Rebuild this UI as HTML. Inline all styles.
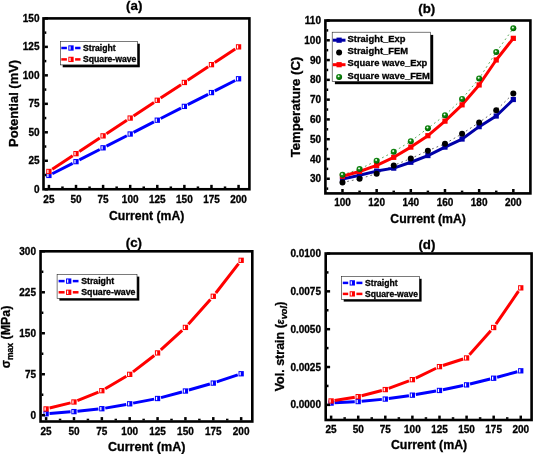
<!DOCTYPE html>
<html><head><meta charset="utf-8"><style>
html,body{margin:0;padding:0;background:#fff;overflow:hidden;}
svg{display:block;will-change:transform;}
text{font-family:"Liberation Sans", sans-serif;stroke:#000;stroke-width:0.3px;}
</style></head><body>
<svg width="533" height="454" viewBox="0 0 533 454" font-family="'Liberation Sans', sans-serif">
<rect width="533" height="454" fill="#fff"/>
<defs><radialGradient id="gs" cx="0.42" cy="0.38" r="0.62"><stop offset="0" stop-color="#ffffff"/><stop offset="0.16" stop-color="#cfe8cf"/><stop offset="0.36" stop-color="#158a15"/><stop offset="0.8" stop-color="#007000"/><stop offset="1" stop-color="#005400"/></radialGradient></defs>
<path d="M52.28,173.73L72.65,163.34M79.37,159.92L99.74,149.53M106.47,146.1L126.83,135.72M133.56,132.29L153.92,121.91M160.65,118.48L181.02,108.1M187.74,104.67L208.11,94.29M214.83,90.86L235.2,80.48" fill="none" stroke="#0000ff" stroke-width="3.0"/>
<path d="M52.24,169.27L72.69,155.84M79.33,151.48L99.78,138.04M106.42,133.68L126.88,120.24M133.51,115.88L153.97,102.45M160.61,98.09L181.06,84.65M187.7,80.29L208.15,66.85M214.79,62.49L235.24,49.06" fill="none" stroke="#ff0000" stroke-width="3.0"/>
<rect x="46.27" y="172.79" width="5.3" height="5.3" fill="#0000ff"/>
<rect x="47.27" y="173.79" width="1.25" height="3.3" fill="#fff"/>
<rect x="73.36" y="158.98" width="5.3" height="5.3" fill="#0000ff"/>
<rect x="74.36" y="159.98" width="1.25" height="3.3" fill="#fff"/>
<rect x="100.45" y="145.17" width="5.3" height="5.3" fill="#0000ff"/>
<rect x="101.45" y="146.17" width="1.25" height="3.3" fill="#fff"/>
<rect x="127.54" y="131.36" width="5.3" height="5.3" fill="#0000ff"/>
<rect x="128.54" y="132.36" width="1.25" height="3.3" fill="#fff"/>
<rect x="154.64" y="117.55" width="5.3" height="5.3" fill="#0000ff"/>
<rect x="155.64" y="118.55" width="1.25" height="3.3" fill="#fff"/>
<rect x="181.73" y="103.74" width="5.3" height="5.3" fill="#0000ff"/>
<rect x="182.73" y="104.74" width="1.25" height="3.3" fill="#fff"/>
<rect x="208.82" y="89.93" width="5.3" height="5.3" fill="#0000ff"/>
<rect x="209.82" y="90.93" width="1.25" height="3.3" fill="#fff"/>
<rect x="235.91" y="76.12" width="5.3" height="5.3" fill="#0000ff"/>
<rect x="236.91" y="77.12" width="1.25" height="3.3" fill="#fff"/>
<rect x="46.27" y="168.8" width="5.3" height="5.3" fill="#ff0000"/>
<rect x="47.27" y="169.8" width="1.25" height="3.3" fill="#fff"/>
<rect x="73.36" y="151.01" width="5.3" height="5.3" fill="#ff0000"/>
<rect x="74.36" y="152.01" width="1.25" height="3.3" fill="#fff"/>
<rect x="100.45" y="133.21" width="5.3" height="5.3" fill="#ff0000"/>
<rect x="101.45" y="134.21" width="1.25" height="3.3" fill="#fff"/>
<rect x="127.54" y="115.41" width="5.3" height="5.3" fill="#ff0000"/>
<rect x="128.54" y="116.41" width="1.25" height="3.3" fill="#fff"/>
<rect x="154.64" y="97.62" width="5.3" height="5.3" fill="#ff0000"/>
<rect x="155.64" y="98.62" width="1.25" height="3.3" fill="#fff"/>
<rect x="181.73" y="79.82" width="5.3" height="5.3" fill="#ff0000"/>
<rect x="182.73" y="80.82" width="1.25" height="3.3" fill="#fff"/>
<rect x="208.82" y="62.02" width="5.3" height="5.3" fill="#ff0000"/>
<rect x="209.82" y="63.02" width="1.25" height="3.3" fill="#fff"/>
<rect x="235.91" y="44.23" width="5.3" height="5.3" fill="#ff0000"/>
<rect x="236.91" y="45.23" width="1.25" height="3.3" fill="#fff"/>
<rect x="43.5" y="18.4" width="205.9" height="170.85" fill="none" stroke="#000" stroke-width="2.6"/>
<line x1="48.92" y1="188.15" x2="48.92" y2="184.85" stroke="#000" stroke-width="2.5"/>
<line x1="76.01" y1="188.15" x2="76.01" y2="184.85" stroke="#000" stroke-width="2.5"/>
<line x1="103.1" y1="188.15" x2="103.1" y2="184.85" stroke="#000" stroke-width="2.5"/>
<line x1="130.19" y1="188.15" x2="130.19" y2="184.85" stroke="#000" stroke-width="2.5"/>
<line x1="157.29" y1="188.15" x2="157.29" y2="184.85" stroke="#000" stroke-width="2.5"/>
<line x1="184.38" y1="188.15" x2="184.38" y2="184.85" stroke="#000" stroke-width="2.5"/>
<line x1="211.47" y1="188.15" x2="211.47" y2="184.85" stroke="#000" stroke-width="2.5"/>
<line x1="238.56" y1="188.15" x2="238.56" y2="184.85" stroke="#000" stroke-width="2.5"/>
<line x1="62.46" y1="188.15" x2="62.46" y2="186.45" stroke="#000" stroke-width="2.5"/>
<line x1="89.56" y1="188.15" x2="89.56" y2="186.45" stroke="#000" stroke-width="2.5"/>
<line x1="116.65" y1="188.15" x2="116.65" y2="186.45" stroke="#000" stroke-width="2.5"/>
<line x1="143.74" y1="188.15" x2="143.74" y2="186.45" stroke="#000" stroke-width="2.5"/>
<line x1="170.83" y1="188.15" x2="170.83" y2="186.45" stroke="#000" stroke-width="2.5"/>
<line x1="197.93" y1="188.15" x2="197.93" y2="186.45" stroke="#000" stroke-width="2.5"/>
<line x1="225.02" y1="188.15" x2="225.02" y2="186.45" stroke="#000" stroke-width="2.5"/>
<text x="48.92" y="202.5" font-size="10" text-anchor="middle" font-weight="bold">25</text>
<text x="76.01" y="202.5" font-size="10" text-anchor="middle" font-weight="bold">50</text>
<text x="103.1" y="202.5" font-size="10" text-anchor="middle" font-weight="bold">75</text>
<text x="130.19" y="202.5" font-size="10" text-anchor="middle" font-weight="bold">100</text>
<text x="157.29" y="202.5" font-size="10" text-anchor="middle" font-weight="bold">125</text>
<text x="184.38" y="202.5" font-size="10" text-anchor="middle" font-weight="bold">150</text>
<text x="211.47" y="202.5" font-size="10" text-anchor="middle" font-weight="bold">175</text>
<text x="238.56" y="202.5" font-size="10" text-anchor="middle" font-weight="bold">200</text>
<line x1="44.6" y1="189.25" x2="47.9" y2="189.25" stroke="#000" stroke-width="2.5"/>
<line x1="44.6" y1="160.78" x2="47.9" y2="160.78" stroke="#000" stroke-width="2.5"/>
<line x1="44.6" y1="132.3" x2="47.9" y2="132.3" stroke="#000" stroke-width="2.5"/>
<line x1="44.6" y1="103.83" x2="47.9" y2="103.83" stroke="#000" stroke-width="2.5"/>
<line x1="44.6" y1="75.35" x2="47.9" y2="75.35" stroke="#000" stroke-width="2.5"/>
<line x1="44.6" y1="46.88" x2="47.9" y2="46.88" stroke="#000" stroke-width="2.5"/>
<line x1="44.6" y1="18.4" x2="47.9" y2="18.4" stroke="#000" stroke-width="2.5"/>
<line x1="44.6" y1="175.01" x2="46.3" y2="175.01" stroke="#000" stroke-width="2.5"/>
<line x1="44.6" y1="146.54" x2="46.3" y2="146.54" stroke="#000" stroke-width="2.5"/>
<line x1="44.6" y1="118.06" x2="46.3" y2="118.06" stroke="#000" stroke-width="2.5"/>
<line x1="44.6" y1="89.59" x2="46.3" y2="89.59" stroke="#000" stroke-width="2.5"/>
<line x1="44.6" y1="61.11" x2="46.3" y2="61.11" stroke="#000" stroke-width="2.5"/>
<line x1="44.6" y1="32.64" x2="46.3" y2="32.64" stroke="#000" stroke-width="2.5"/>
<text x="39.5" y="192.85" font-size="10" text-anchor="end" font-weight="bold">0</text>
<text x="39.5" y="164.38" font-size="10" text-anchor="end" font-weight="bold">25</text>
<text x="39.5" y="135.9" font-size="10" text-anchor="end" font-weight="bold">50</text>
<text x="39.5" y="107.42" font-size="10" text-anchor="end" font-weight="bold">75</text>
<text x="39.5" y="78.95" font-size="10" text-anchor="end" font-weight="bold">100</text>
<text x="39.5" y="50.48" font-size="10" text-anchor="end" font-weight="bold">125</text>
<text x="39.5" y="22" font-size="10" text-anchor="end" font-weight="bold">150</text>
<text x="134.2" y="10.2" font-size="13.3" text-anchor="middle" font-weight="bold">(a)</text>
<text x="146.65" y="219.5" font-size="12" text-anchor="middle" font-weight="bold" textLength="75.3" lengthAdjust="spacingAndGlyphs">Current (mA)</text>
<text x="18.2" y="103.4" font-size="12" text-anchor="middle" font-weight="bold" textLength="87" lengthAdjust="spacingAndGlyphs" transform="rotate(-90 18.2 103.4)">Potential (mV)</text>
<rect x="62.7" y="43.7" width="77.1" height="23.6" fill="#000"/>
<rect x="60.3" y="41.3" width="77.1" height="23.6" fill="#fff" stroke="#222" stroke-width="0.6"/>
<line x1="61.3" y1="48" x2="66.9" y2="48" stroke="#0000ff" stroke-width="2.5"/>
<line x1="75.1" y1="48" x2="80.5" y2="48" stroke="#0000ff" stroke-width="2.5"/>
<rect x="68.35" y="45.35" width="5.3" height="5.3" fill="#0000ff"/>
<rect x="69.35" y="46.35" width="1.25" height="3.3" fill="#fff"/>
<text x="83" y="50.7" font-size="8.6" text-anchor="start" font-weight="bold" textLength="32.6" lengthAdjust="spacingAndGlyphs">Straight</text>
<line x1="61.3" y1="59.4" x2="66.9" y2="59.4" stroke="#ff0000" stroke-width="2.5"/>
<line x1="75.1" y1="59.4" x2="80.5" y2="59.4" stroke="#ff0000" stroke-width="2.5"/>
<rect x="68.35" y="56.75" width="5.3" height="5.3" fill="#ff0000"/>
<rect x="69.35" y="57.75" width="1.25" height="3.3" fill="#fff"/>
<text x="83" y="62.1" font-size="8.6" text-anchor="start" font-weight="bold" textLength="53.4" lengthAdjust="spacingAndGlyphs">Square-wave</text>
<polyline points="342.48,182.52 359.57,178.76 376.65,173.65 393.73,165.39 410.82,158.5 427.9,150.64 444.98,143.75 462.07,133.73 479.15,122.52 496.23,110.13 513.32,93.61" fill="none" stroke="#555" stroke-width="0.9" stroke-linejoin="round" stroke-dasharray="1.8 3.0"/>
<polyline points="342.48,174.83 359.57,169.12 376.65,160.67 393.73,151.82 410.82,141.2 427.9,128.22 444.98,115.24 462.07,98.92 479.15,78.46 496.23,52.11 513.32,28.31" fill="none" stroke="#4aa04a" stroke-width="0.9" stroke-linejoin="round" stroke-dasharray="1.8 3.0"/>
<polyline points="342.48,179.16 359.57,175.22 376.65,171.09 393.73,168.14 410.82,162.24 427.9,155.55 444.98,147.1 462.07,139.04 479.15,126.65 496.23,116.03 513.32,99.51" fill="none" stroke="#0000a8" stroke-width="3.0" stroke-linejoin="round"/>
<polyline points="342.48,176.2 359.57,171.48 376.65,165.39 393.73,157.32 410.82,147.1 427.9,135.69 444.98,121.14 462.07,104.82 479.15,84.95 496.23,59.98 513.32,38.34" fill="none" stroke="#ff0000" stroke-width="3.0" stroke-linejoin="round"/>
<rect x="339.88" y="176.56" width="5.2" height="5.2" fill="#0000a8"/>
<rect x="356.97" y="172.62" width="5.2" height="5.2" fill="#0000a8"/>
<rect x="374.05" y="168.49" width="5.2" height="5.2" fill="#0000a8"/>
<rect x="391.13" y="165.54" width="5.2" height="5.2" fill="#0000a8"/>
<rect x="408.22" y="159.64" width="5.2" height="5.2" fill="#0000a8"/>
<rect x="425.3" y="152.95" width="5.2" height="5.2" fill="#0000a8"/>
<rect x="442.38" y="144.5" width="5.2" height="5.2" fill="#0000a8"/>
<rect x="459.47" y="136.44" width="5.2" height="5.2" fill="#0000a8"/>
<rect x="476.55" y="124.05" width="5.2" height="5.2" fill="#0000a8"/>
<rect x="493.63" y="113.43" width="5.2" height="5.2" fill="#0000a8"/>
<rect x="510.72" y="96.91" width="5.2" height="5.2" fill="#0000a8"/>
<rect x="339.88" y="173.6" width="5.2" height="5.2" fill="#ff0000"/>
<rect x="356.97" y="168.88" width="5.2" height="5.2" fill="#ff0000"/>
<rect x="374.05" y="162.79" width="5.2" height="5.2" fill="#ff0000"/>
<rect x="391.13" y="154.72" width="5.2" height="5.2" fill="#ff0000"/>
<rect x="408.22" y="144.5" width="5.2" height="5.2" fill="#ff0000"/>
<rect x="425.3" y="133.09" width="5.2" height="5.2" fill="#ff0000"/>
<rect x="442.38" y="118.54" width="5.2" height="5.2" fill="#ff0000"/>
<rect x="459.47" y="102.22" width="5.2" height="5.2" fill="#ff0000"/>
<rect x="476.55" y="82.35" width="5.2" height="5.2" fill="#ff0000"/>
<rect x="493.63" y="57.38" width="5.2" height="5.2" fill="#ff0000"/>
<rect x="510.72" y="35.74" width="5.2" height="5.2" fill="#ff0000"/>
<circle cx="342.48" cy="182.52" r="3.0" fill="#000"/>
<circle cx="359.57" cy="178.76" r="3.0" fill="#000"/>
<circle cx="376.65" cy="173.65" r="3.0" fill="#000"/>
<circle cx="393.73" cy="165.39" r="3.0" fill="#000"/>
<circle cx="410.82" cy="158.5" r="3.0" fill="#000"/>
<circle cx="427.9" cy="150.64" r="3.0" fill="#000"/>
<circle cx="444.98" cy="143.75" r="3.0" fill="#000"/>
<circle cx="462.07" cy="133.73" r="3.0" fill="#000"/>
<circle cx="479.15" cy="122.52" r="3.0" fill="#000"/>
<circle cx="496.23" cy="110.13" r="3.0" fill="#000"/>
<circle cx="513.32" cy="93.61" r="3.0" fill="#000"/>
<circle cx="342.48" cy="174.83" r="3.0" fill="url(#gs)"/>
<circle cx="359.57" cy="169.12" r="3.0" fill="url(#gs)"/>
<circle cx="376.65" cy="160.67" r="3.0" fill="url(#gs)"/>
<circle cx="393.73" cy="151.82" r="3.0" fill="url(#gs)"/>
<circle cx="410.82" cy="141.2" r="3.0" fill="url(#gs)"/>
<circle cx="427.9" cy="128.22" r="3.0" fill="url(#gs)"/>
<circle cx="444.98" cy="115.24" r="3.0" fill="url(#gs)"/>
<circle cx="462.07" cy="98.92" r="3.0" fill="url(#gs)"/>
<circle cx="479.15" cy="78.46" r="3.0" fill="url(#gs)"/>
<circle cx="496.23" cy="52.11" r="3.0" fill="url(#gs)"/>
<circle cx="513.32" cy="28.31" r="3.0" fill="url(#gs)"/>
<rect x="325.4" y="20.5" width="205" height="172.9" fill="none" stroke="#000" stroke-width="2.6"/>
<line x1="342.48" y1="192.3" x2="342.48" y2="189" stroke="#000" stroke-width="2.5"/>
<line x1="376.65" y1="192.3" x2="376.65" y2="189" stroke="#000" stroke-width="2.5"/>
<line x1="410.82" y1="192.3" x2="410.82" y2="189" stroke="#000" stroke-width="2.5"/>
<line x1="444.98" y1="192.3" x2="444.98" y2="189" stroke="#000" stroke-width="2.5"/>
<line x1="479.15" y1="192.3" x2="479.15" y2="189" stroke="#000" stroke-width="2.5"/>
<line x1="513.32" y1="192.3" x2="513.32" y2="189" stroke="#000" stroke-width="2.5"/>
<line x1="359.57" y1="192.3" x2="359.57" y2="190.6" stroke="#000" stroke-width="2.5"/>
<line x1="393.73" y1="192.3" x2="393.73" y2="190.6" stroke="#000" stroke-width="2.5"/>
<line x1="427.9" y1="192.3" x2="427.9" y2="190.6" stroke="#000" stroke-width="2.5"/>
<line x1="462.07" y1="192.3" x2="462.07" y2="190.6" stroke="#000" stroke-width="2.5"/>
<line x1="496.23" y1="192.3" x2="496.23" y2="190.6" stroke="#000" stroke-width="2.5"/>
<text x="342.48" y="206.3" font-size="10" text-anchor="middle" font-weight="bold">100</text>
<text x="376.65" y="206.3" font-size="10" text-anchor="middle" font-weight="bold">120</text>
<text x="410.82" y="206.3" font-size="10" text-anchor="middle" font-weight="bold">140</text>
<text x="444.98" y="206.3" font-size="10" text-anchor="middle" font-weight="bold">160</text>
<text x="479.15" y="206.3" font-size="10" text-anchor="middle" font-weight="bold">180</text>
<text x="513.32" y="206.3" font-size="10" text-anchor="middle" font-weight="bold">200</text>
<line x1="326.5" y1="178.76" x2="329.8" y2="178.76" stroke="#000" stroke-width="2.5"/>
<line x1="326.5" y1="158.98" x2="329.8" y2="158.98" stroke="#000" stroke-width="2.5"/>
<line x1="326.5" y1="139.2" x2="329.8" y2="139.2" stroke="#000" stroke-width="2.5"/>
<line x1="326.5" y1="119.41" x2="329.8" y2="119.41" stroke="#000" stroke-width="2.5"/>
<line x1="326.5" y1="99.63" x2="329.8" y2="99.63" stroke="#000" stroke-width="2.5"/>
<line x1="326.5" y1="79.85" x2="329.8" y2="79.85" stroke="#000" stroke-width="2.5"/>
<line x1="326.5" y1="60.07" x2="329.8" y2="60.07" stroke="#000" stroke-width="2.5"/>
<line x1="326.5" y1="40.28" x2="329.8" y2="40.28" stroke="#000" stroke-width="2.5"/>
<line x1="326.5" y1="20.5" x2="329.8" y2="20.5" stroke="#000" stroke-width="2.5"/>
<line x1="326.5" y1="188.65" x2="328.2" y2="188.65" stroke="#000" stroke-width="2.5"/>
<line x1="326.5" y1="168.87" x2="328.2" y2="168.87" stroke="#000" stroke-width="2.5"/>
<line x1="326.5" y1="149.09" x2="328.2" y2="149.09" stroke="#000" stroke-width="2.5"/>
<line x1="326.5" y1="129.3" x2="328.2" y2="129.3" stroke="#000" stroke-width="2.5"/>
<line x1="326.5" y1="109.52" x2="328.2" y2="109.52" stroke="#000" stroke-width="2.5"/>
<line x1="326.5" y1="89.74" x2="328.2" y2="89.74" stroke="#000" stroke-width="2.5"/>
<line x1="326.5" y1="69.96" x2="328.2" y2="69.96" stroke="#000" stroke-width="2.5"/>
<line x1="326.5" y1="50.17" x2="328.2" y2="50.17" stroke="#000" stroke-width="2.5"/>
<line x1="326.5" y1="30.39" x2="328.2" y2="30.39" stroke="#000" stroke-width="2.5"/>
<text x="321" y="182.36" font-size="10" text-anchor="end" font-weight="bold">30</text>
<text x="321" y="162.58" font-size="10" text-anchor="end" font-weight="bold">40</text>
<text x="321" y="142.8" font-size="10" text-anchor="end" font-weight="bold">50</text>
<text x="321" y="123.01" font-size="10" text-anchor="end" font-weight="bold">60</text>
<text x="321" y="103.23" font-size="10" text-anchor="end" font-weight="bold">70</text>
<text x="321" y="83.45" font-size="10" text-anchor="end" font-weight="bold">80</text>
<text x="321" y="63.67" font-size="10" text-anchor="end" font-weight="bold">90</text>
<text x="321" y="43.88" font-size="10" text-anchor="end" font-weight="bold">100</text>
<text x="321" y="24.1" font-size="10" text-anchor="end" font-weight="bold">110</text>
<text x="426.7" y="13.2" font-size="13.3" text-anchor="middle" font-weight="bold">(b)</text>
<text x="428.1" y="223.4" font-size="12" text-anchor="middle" font-weight="bold" textLength="75.6" lengthAdjust="spacingAndGlyphs">Current (mA)</text>
<text x="300" y="107" font-size="12" text-anchor="middle" font-weight="bold" textLength="100.5" lengthAdjust="spacingAndGlyphs" transform="rotate(-90 300 107)">Temperature (C)</text>
<rect x="334.9" y="34.9" width="98.3" height="49.3" fill="#000"/>
<rect x="332.2" y="32.2" width="98.3" height="49.3" fill="#fff" stroke="#222" stroke-width="0.6"/>
<line x1="332.8" y1="40.2" x2="345.5" y2="40.2" stroke="#0000a8" stroke-width="3"/>
<rect x="336.5" y="37.6" width="5.2" height="5.2" fill="#0000a8"/>
<circle cx="339.1" cy="52.4" r="3.0" fill="#000"/>
<line x1="332.8" y1="64.7" x2="345.5" y2="64.7" stroke="#ff0000" stroke-width="3"/>
<rect x="336.5" y="62.1" width="5.2" height="5.2" fill="#ff0000"/>
<circle cx="339.1" cy="77.0" r="3.0" fill="url(#gs)"/>
<text x="347.6" y="41.8" font-size="9.4" text-anchor="start" font-weight="bold">Straight_Exp</text>
<text x="347.6" y="54" font-size="9.4" text-anchor="start" font-weight="bold">Straight_FEM</text>
<text x="347.6" y="66.3" font-size="9.4" text-anchor="start" font-weight="bold">Square wave_Exp</text>
<text x="347.6" y="78.6" font-size="9.4" text-anchor="start" font-weight="bold">Square wave_FEM</text>
<path d="M49.57,413.48L70.54,411.87M77.43,411.25L98.4,409.07M105.28,408.11L126.27,404.4M133.14,403.14L154.13,399.15M160.99,397.58L182.01,391.93M188.85,390.04L209.87,384.06M216.7,381.95L237.75,374.89" fill="none" stroke="#0000ff" stroke-width="3.0"/>
<path d="M49.55,408.08L70.56,402.85M77.38,400.62L98.45,392.06M105.19,388.73L126.37,376.31M132.99,371.82L154.29,355.45M160.81,349.96L182.19,330.38M188.34,324.17L210.39,299.51M215.84,292.99L238.61,263.6" fill="none" stroke="#ff0000" stroke-width="3.0"/>
<rect x="43.47" y="411.09" width="5.3" height="5.3" fill="#0000ff"/>
<rect x="44.47" y="412.09" width="1.25" height="3.3" fill="#fff"/>
<rect x="71.33" y="408.96" width="5.3" height="5.3" fill="#0000ff"/>
<rect x="72.33" y="409.96" width="1.25" height="3.3" fill="#fff"/>
<rect x="99.2" y="406.06" width="5.3" height="5.3" fill="#0000ff"/>
<rect x="100.2" y="407.06" width="1.25" height="3.3" fill="#fff"/>
<rect x="127.06" y="401.15" width="5.3" height="5.3" fill="#0000ff"/>
<rect x="128.06" y="402.15" width="1.25" height="3.3" fill="#fff"/>
<rect x="154.92" y="395.85" width="5.3" height="5.3" fill="#0000ff"/>
<rect x="155.92" y="396.85" width="1.25" height="3.3" fill="#fff"/>
<rect x="182.78" y="388.36" width="5.3" height="5.3" fill="#0000ff"/>
<rect x="183.78" y="389.36" width="1.25" height="3.3" fill="#fff"/>
<rect x="210.64" y="380.44" width="5.3" height="5.3" fill="#0000ff"/>
<rect x="211.64" y="381.44" width="1.25" height="3.3" fill="#fff"/>
<rect x="238.51" y="371.1" width="5.3" height="5.3" fill="#0000ff"/>
<rect x="239.51" y="372.1" width="1.25" height="3.3" fill="#fff"/>
<rect x="43.47" y="406.28" width="5.3" height="5.3" fill="#ff0000"/>
<rect x="44.47" y="407.28" width="1.25" height="3.3" fill="#fff"/>
<rect x="71.33" y="399.34" width="5.3" height="5.3" fill="#ff0000"/>
<rect x="72.33" y="400.34" width="1.25" height="3.3" fill="#fff"/>
<rect x="99.2" y="388.03" width="5.3" height="5.3" fill="#ff0000"/>
<rect x="100.2" y="389.03" width="1.25" height="3.3" fill="#fff"/>
<rect x="127.06" y="371.7" width="5.3" height="5.3" fill="#ff0000"/>
<rect x="128.06" y="372.7" width="1.25" height="3.3" fill="#fff"/>
<rect x="154.92" y="350.28" width="5.3" height="5.3" fill="#ff0000"/>
<rect x="155.92" y="351.28" width="1.25" height="3.3" fill="#fff"/>
<rect x="182.78" y="324.76" width="5.3" height="5.3" fill="#ff0000"/>
<rect x="183.78" y="325.76" width="1.25" height="3.3" fill="#fff"/>
<rect x="210.64" y="293.62" width="5.3" height="5.3" fill="#ff0000"/>
<rect x="211.64" y="294.62" width="1.25" height="3.3" fill="#fff"/>
<rect x="238.51" y="257.67" width="5.3" height="5.3" fill="#ff0000"/>
<rect x="239.51" y="258.67" width="1.25" height="3.3" fill="#fff"/>
<rect x="40.55" y="251.3" width="211.75" height="170.2" fill="none" stroke="#000" stroke-width="2.6"/>
<line x1="46.12" y1="420.4" x2="46.12" y2="417.1" stroke="#000" stroke-width="2.5"/>
<line x1="73.98" y1="420.4" x2="73.98" y2="417.1" stroke="#000" stroke-width="2.5"/>
<line x1="101.85" y1="420.4" x2="101.85" y2="417.1" stroke="#000" stroke-width="2.5"/>
<line x1="129.71" y1="420.4" x2="129.71" y2="417.1" stroke="#000" stroke-width="2.5"/>
<line x1="157.57" y1="420.4" x2="157.57" y2="417.1" stroke="#000" stroke-width="2.5"/>
<line x1="185.43" y1="420.4" x2="185.43" y2="417.1" stroke="#000" stroke-width="2.5"/>
<line x1="213.29" y1="420.4" x2="213.29" y2="417.1" stroke="#000" stroke-width="2.5"/>
<line x1="241.16" y1="420.4" x2="241.16" y2="417.1" stroke="#000" stroke-width="2.5"/>
<line x1="60.05" y1="420.4" x2="60.05" y2="418.7" stroke="#000" stroke-width="2.5"/>
<line x1="87.92" y1="420.4" x2="87.92" y2="418.7" stroke="#000" stroke-width="2.5"/>
<line x1="115.78" y1="420.4" x2="115.78" y2="418.7" stroke="#000" stroke-width="2.5"/>
<line x1="143.64" y1="420.4" x2="143.64" y2="418.7" stroke="#000" stroke-width="2.5"/>
<line x1="171.5" y1="420.4" x2="171.5" y2="418.7" stroke="#000" stroke-width="2.5"/>
<line x1="199.36" y1="420.4" x2="199.36" y2="418.7" stroke="#000" stroke-width="2.5"/>
<line x1="227.22" y1="420.4" x2="227.22" y2="418.7" stroke="#000" stroke-width="2.5"/>
<text x="46.12" y="434.5" font-size="10" text-anchor="middle" font-weight="bold">25</text>
<text x="73.98" y="434.5" font-size="10" text-anchor="middle" font-weight="bold">50</text>
<text x="101.85" y="434.5" font-size="10" text-anchor="middle" font-weight="bold">75</text>
<text x="129.71" y="434.5" font-size="10" text-anchor="middle" font-weight="bold">100</text>
<text x="157.57" y="434.5" font-size="10" text-anchor="middle" font-weight="bold">125</text>
<text x="185.43" y="434.5" font-size="10" text-anchor="middle" font-weight="bold">150</text>
<text x="213.29" y="434.5" font-size="10" text-anchor="middle" font-weight="bold">175</text>
<text x="241.16" y="434.5" font-size="10" text-anchor="middle" font-weight="bold">200</text>
<line x1="41.65" y1="415.22" x2="44.95" y2="415.22" stroke="#000" stroke-width="2.5"/>
<line x1="41.65" y1="374.24" x2="44.95" y2="374.24" stroke="#000" stroke-width="2.5"/>
<line x1="41.65" y1="333.26" x2="44.95" y2="333.26" stroke="#000" stroke-width="2.5"/>
<line x1="41.65" y1="292.28" x2="44.95" y2="292.28" stroke="#000" stroke-width="2.5"/>
<line x1="41.65" y1="251.3" x2="44.95" y2="251.3" stroke="#000" stroke-width="2.5"/>
<line x1="41.65" y1="394.73" x2="43.35" y2="394.73" stroke="#000" stroke-width="2.5"/>
<line x1="41.65" y1="353.75" x2="43.35" y2="353.75" stroke="#000" stroke-width="2.5"/>
<line x1="41.65" y1="312.77" x2="43.35" y2="312.77" stroke="#000" stroke-width="2.5"/>
<line x1="41.65" y1="271.79" x2="43.35" y2="271.79" stroke="#000" stroke-width="2.5"/>
<text x="36" y="418.82" font-size="10" text-anchor="end" font-weight="bold">0</text>
<text x="36" y="377.84" font-size="10" text-anchor="end" font-weight="bold">75</text>
<text x="36" y="336.86" font-size="10" text-anchor="end" font-weight="bold">150</text>
<text x="36" y="295.88" font-size="10" text-anchor="end" font-weight="bold">225</text>
<text x="36" y="254.9" font-size="10" text-anchor="end" font-weight="bold">300</text>
<text x="133.9" y="246.6" font-size="13.3" text-anchor="middle" font-weight="bold">(c)</text>
<text x="146.65" y="451.3" font-size="12" text-anchor="middle" font-weight="bold" textLength="77.5" lengthAdjust="spacingAndGlyphs">Current (mA)</text>
<text transform="translate(9.9 368.3) rotate(-90)" font-size="12" font-weight="bold" text-anchor="start">σ<tspan font-size="8.6" dy="2.9">max</tspan><tspan dy="-2.9" font-size="12.4"> (MPa)</tspan></text>
<rect x="59.4" y="276.6" width="79.9" height="24" fill="#000"/>
<rect x="57.1" y="274.3" width="79.9" height="24" fill="#fff" stroke="#222" stroke-width="0.6"/>
<line x1="58.6" y1="281.1" x2="64.6" y2="281.1" stroke="#0000ff" stroke-width="2.5"/>
<line x1="72.8" y1="281.1" x2="78.5" y2="281.1" stroke="#0000ff" stroke-width="2.5"/>
<rect x="66.05" y="278.45" width="5.3" height="5.3" fill="#0000ff"/>
<rect x="67.05" y="279.45" width="1.25" height="3.3" fill="#fff"/>
<text x="81.2" y="283.8" font-size="8.6" text-anchor="start" font-weight="bold" textLength="33" lengthAdjust="spacingAndGlyphs">Straight</text>
<line x1="58.6" y1="292.3" x2="64.6" y2="292.3" stroke="#ff0000" stroke-width="2.5"/>
<line x1="72.8" y1="292.3" x2="78.5" y2="292.3" stroke="#ff0000" stroke-width="2.5"/>
<rect x="66.05" y="289.65" width="5.3" height="5.3" fill="#ff0000"/>
<rect x="67.05" y="290.65" width="1.25" height="3.3" fill="#fff"/>
<text x="81.2" y="295" font-size="8.6" text-anchor="start" font-weight="bold" textLength="54.3" lengthAdjust="spacingAndGlyphs">Square-wave</text>
<path d="M334.57,402.87L354.76,401.75M361.66,401.25L381.86,399.38M388.74,398.57L408.95,395.66M415.83,394.56L436.05,391.05M442.92,389.75L463.15,385.59M470.01,384.04L490.24,379.07M497.09,377.29L517.34,371.74" fill="none" stroke="#0000ff" stroke-width="3.0"/>
<path d="M334.56,400.41L354.77,397.21M361.63,395.76L381.88,390.47M388.7,388.33L408.99,380.89M415.77,378.03L436.12,368.26M442.9,365.55L463.17,359.04M469.47,354.69L490.78,330.76M495.93,324.21L518.5,291.17" fill="none" stroke="#ff0000" stroke-width="3.0"/>
<rect x="328.47" y="400.41" width="5.3" height="5.3" fill="#0000ff"/>
<rect x="329.47" y="401.41" width="1.25" height="3.3" fill="#fff"/>
<rect x="355.56" y="398.91" width="5.3" height="5.3" fill="#0000ff"/>
<rect x="356.56" y="399.91" width="1.25" height="3.3" fill="#fff"/>
<rect x="382.65" y="396.42" width="5.3" height="5.3" fill="#0000ff"/>
<rect x="383.65" y="397.42" width="1.25" height="3.3" fill="#fff"/>
<rect x="409.74" y="392.51" width="5.3" height="5.3" fill="#0000ff"/>
<rect x="410.74" y="393.51" width="1.25" height="3.3" fill="#fff"/>
<rect x="436.84" y="387.8" width="5.3" height="5.3" fill="#0000ff"/>
<rect x="437.84" y="388.8" width="1.25" height="3.3" fill="#fff"/>
<rect x="463.93" y="382.23" width="5.3" height="5.3" fill="#0000ff"/>
<rect x="464.93" y="383.23" width="1.25" height="3.3" fill="#fff"/>
<rect x="491.02" y="375.57" width="5.3" height="5.3" fill="#0000ff"/>
<rect x="492.02" y="376.57" width="1.25" height="3.3" fill="#fff"/>
<rect x="518.11" y="368.16" width="5.3" height="5.3" fill="#0000ff"/>
<rect x="519.11" y="369.16" width="1.25" height="3.3" fill="#fff"/>
<rect x="328.47" y="398.31" width="5.3" height="5.3" fill="#ff0000"/>
<rect x="329.47" y="399.31" width="1.25" height="3.3" fill="#fff"/>
<rect x="355.56" y="394.01" width="5.3" height="5.3" fill="#ff0000"/>
<rect x="356.56" y="395.01" width="1.25" height="3.3" fill="#fff"/>
<rect x="382.65" y="386.93" width="5.3" height="5.3" fill="#ff0000"/>
<rect x="383.65" y="387.93" width="1.25" height="3.3" fill="#fff"/>
<rect x="409.74" y="377" width="5.3" height="5.3" fill="#ff0000"/>
<rect x="410.74" y="378" width="1.25" height="3.3" fill="#fff"/>
<rect x="436.84" y="363.99" width="5.3" height="5.3" fill="#ff0000"/>
<rect x="437.84" y="364.99" width="1.25" height="3.3" fill="#fff"/>
<rect x="463.93" y="355.29" width="5.3" height="5.3" fill="#ff0000"/>
<rect x="464.93" y="356.29" width="1.25" height="3.3" fill="#fff"/>
<rect x="491.02" y="324.87" width="5.3" height="5.3" fill="#ff0000"/>
<rect x="492.02" y="325.87" width="1.25" height="3.3" fill="#fff"/>
<rect x="518.11" y="285.21" width="5.3" height="5.3" fill="#ff0000"/>
<rect x="519.11" y="286.21" width="1.25" height="3.3" fill="#fff"/>
<rect x="325.7" y="253.5" width="205.9" height="166.5" fill="none" stroke="#000" stroke-width="2.6"/>
<line x1="331.12" y1="418.9" x2="331.12" y2="415.6" stroke="#000" stroke-width="2.5"/>
<line x1="358.21" y1="418.9" x2="358.21" y2="415.6" stroke="#000" stroke-width="2.5"/>
<line x1="385.3" y1="418.9" x2="385.3" y2="415.6" stroke="#000" stroke-width="2.5"/>
<line x1="412.39" y1="418.9" x2="412.39" y2="415.6" stroke="#000" stroke-width="2.5"/>
<line x1="439.49" y1="418.9" x2="439.49" y2="415.6" stroke="#000" stroke-width="2.5"/>
<line x1="466.58" y1="418.9" x2="466.58" y2="415.6" stroke="#000" stroke-width="2.5"/>
<line x1="493.67" y1="418.9" x2="493.67" y2="415.6" stroke="#000" stroke-width="2.5"/>
<line x1="520.76" y1="418.9" x2="520.76" y2="415.6" stroke="#000" stroke-width="2.5"/>
<line x1="344.66" y1="418.9" x2="344.66" y2="417.2" stroke="#000" stroke-width="2.5"/>
<line x1="371.76" y1="418.9" x2="371.76" y2="417.2" stroke="#000" stroke-width="2.5"/>
<line x1="398.85" y1="418.9" x2="398.85" y2="417.2" stroke="#000" stroke-width="2.5"/>
<line x1="425.94" y1="418.9" x2="425.94" y2="417.2" stroke="#000" stroke-width="2.5"/>
<line x1="453.03" y1="418.9" x2="453.03" y2="417.2" stroke="#000" stroke-width="2.5"/>
<line x1="480.12" y1="418.9" x2="480.12" y2="417.2" stroke="#000" stroke-width="2.5"/>
<line x1="507.22" y1="418.9" x2="507.22" y2="417.2" stroke="#000" stroke-width="2.5"/>
<text x="331.12" y="433" font-size="10" text-anchor="middle" font-weight="bold">25</text>
<text x="358.21" y="433" font-size="10" text-anchor="middle" font-weight="bold">50</text>
<text x="385.3" y="433" font-size="10" text-anchor="middle" font-weight="bold">75</text>
<text x="412.39" y="433" font-size="10" text-anchor="middle" font-weight="bold">100</text>
<text x="439.49" y="433" font-size="10" text-anchor="middle" font-weight="bold">125</text>
<text x="466.58" y="433" font-size="10" text-anchor="middle" font-weight="bold">150</text>
<text x="493.67" y="433" font-size="10" text-anchor="middle" font-weight="bold">175</text>
<text x="520.76" y="433" font-size="10" text-anchor="middle" font-weight="bold">200</text>
<line x1="326.8" y1="404.86" x2="330.1" y2="404.86" stroke="#000" stroke-width="2.5"/>
<line x1="326.8" y1="367.02" x2="330.1" y2="367.02" stroke="#000" stroke-width="2.5"/>
<line x1="326.8" y1="329.18" x2="330.1" y2="329.18" stroke="#000" stroke-width="2.5"/>
<line x1="326.8" y1="291.34" x2="330.1" y2="291.34" stroke="#000" stroke-width="2.5"/>
<line x1="326.8" y1="253.5" x2="330.1" y2="253.5" stroke="#000" stroke-width="2.5"/>
<line x1="326.8" y1="385.94" x2="328.5" y2="385.94" stroke="#000" stroke-width="2.5"/>
<line x1="326.8" y1="348.1" x2="328.5" y2="348.1" stroke="#000" stroke-width="2.5"/>
<line x1="326.8" y1="310.26" x2="328.5" y2="310.26" stroke="#000" stroke-width="2.5"/>
<line x1="326.8" y1="272.42" x2="328.5" y2="272.42" stroke="#000" stroke-width="2.5"/>
<text x="321" y="408.46" font-size="10" text-anchor="end" font-weight="bold">0.0000</text>
<text x="321" y="370.62" font-size="10" text-anchor="end" font-weight="bold">0.0025</text>
<text x="321" y="332.78" font-size="10" text-anchor="end" font-weight="bold">0.0050</text>
<text x="321" y="294.94" font-size="10" text-anchor="end" font-weight="bold">0.0075</text>
<text x="321" y="257.1" font-size="10" text-anchor="end" font-weight="bold">0.0100</text>
<text x="426.9" y="249" font-size="13.3" text-anchor="middle" font-weight="bold">(d)</text>
<text x="429.05" y="449.3" font-size="12" text-anchor="middle" font-weight="bold" textLength="76.3" lengthAdjust="spacingAndGlyphs">Current (mA)</text>
<text transform="translate(283.8 391.3) rotate(-90)" font-size="12.5" font-weight="bold" text-anchor="start">Vol. strain (<tspan font-style="italic" font-size="10">ε</tspan><tspan font-size="9.4" dy="2.8" font-style="italic">vol</tspan><tspan dy="-2.8">)</tspan></text>
<rect x="343.7" y="278.8" width="77.9" height="22.8" fill="#000"/>
<rect x="341.4" y="276.5" width="77.9" height="22.8" fill="#fff" stroke="#222" stroke-width="0.6"/>
<line x1="342.8" y1="282.9" x2="348.2" y2="282.9" stroke="#0000ff" stroke-width="2.5"/>
<line x1="356.4" y1="282.9" x2="362.4" y2="282.9" stroke="#0000ff" stroke-width="2.5"/>
<rect x="349.65" y="280.25" width="5.3" height="5.3" fill="#0000ff"/>
<rect x="350.65" y="281.25" width="1.25" height="3.3" fill="#fff"/>
<text x="365.1" y="285.6" font-size="8.6" text-anchor="start" font-weight="bold" textLength="32.4" lengthAdjust="spacingAndGlyphs">Straight</text>
<line x1="342.8" y1="293.9" x2="348.2" y2="293.9" stroke="#ff0000" stroke-width="2.5"/>
<line x1="356.4" y1="293.9" x2="362.4" y2="293.9" stroke="#ff0000" stroke-width="2.5"/>
<rect x="349.65" y="291.25" width="5.3" height="5.3" fill="#ff0000"/>
<rect x="350.65" y="292.25" width="1.25" height="3.3" fill="#fff"/>
<text x="365.1" y="296.6" font-size="8.6" text-anchor="start" font-weight="bold" textLength="53" lengthAdjust="spacingAndGlyphs">Square-wave</text>
</svg>
</body></html>
